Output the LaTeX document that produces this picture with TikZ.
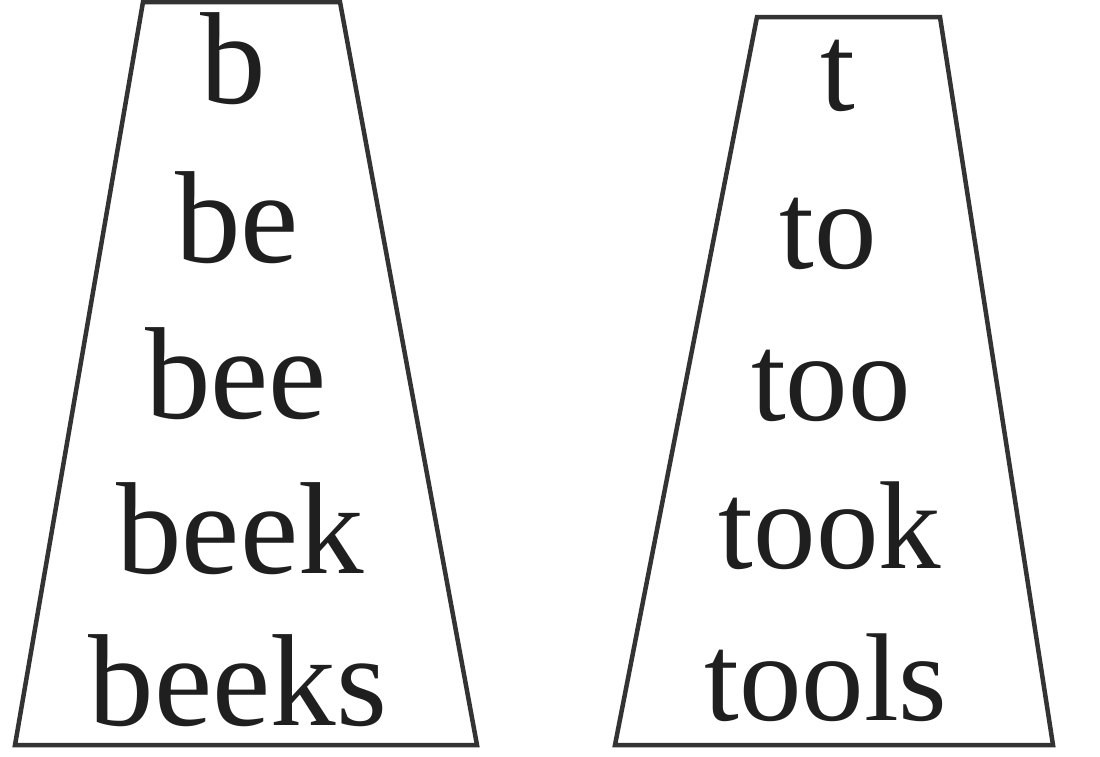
\documentclass[tikz,border=0pt]{standalone}
\usepackage{fontspec}
\setmainfont{Liberation Serif}
\begin{document}
\begin{tikzpicture}[x=1pt,y=-1pt,
  frame/.style={draw=black!80,line width=4.5pt,line join=miter},
  word/.style={anchor=base,inner sep=0pt,text=black!88,font=\fontsize{125}{125}\selectfont},
  lword/.style={word,font=\fontsize{131}{131}\selectfont}]
\useasboundingbox[fill=white] (0,0) rectangle (1100,756);
\draw[frame] (143,2) -- (340,2) -- (477,745) -- (15,745) -- cycle;
\draw[frame] (757,17) -- (940,17) -- (1053,745) -- (615,745) -- cycle;
\node[lword] (b) at (233,103) {b};
\node[lword] (be) at (237,262) {be};
\node[lword] (bee) at (236,418) {bee};
\node[lword] (beek) at (240,573) {beek};
\node[lword] (beeks) at (238,725) {beeks};
\node[word] (t) at (838,110) {t};
\node[word] (to) at (828,268) {to};
\node[word] (too) at (831,420) {too};
\node[word] (took) at (830,568) {took};
\node[word] (tools) at (826,720) {tools};
\end{tikzpicture}
\end{document}
